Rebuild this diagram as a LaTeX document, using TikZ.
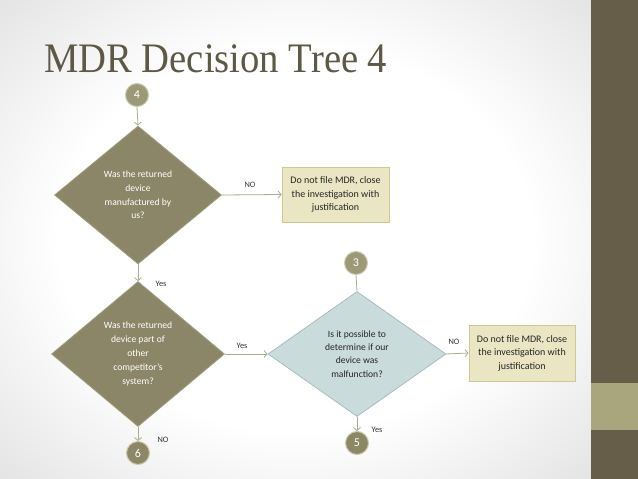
\documentclass[tikz,border=0pt]{standalone}
\usepackage{fontspec}
\setmainfont{Carlito}
\newfontfamily\titlefont{Liberation Serif}
\usetikzlibrary{shapes.geometric,arrows.meta}
\definecolor{barDark}{HTML}{665E49}
\definecolor{barLight}{HTML}{A9A57D}
\definecolor{titleCol}{HTML}{5E5945}
\definecolor{dmOlive}{HTML}{8B8667}
\definecolor{dmOliveLine}{HTML}{A19D7E}
\definecolor{dmBlue}{HTML}{CADBDB}
\definecolor{dmBlueLine}{HTML}{A7BEC0}
\definecolor{boxFill}{HTML}{EAE6C3}
\definecolor{boxLine}{HTML}{CEC795}
\definecolor{circA}{HTML}{9C9977}
\definecolor{circB}{HTML}{8C8866}
\definecolor{circLine}{HTML}{CCCAAE}
\definecolor{connCol}{HTML}{ADAB93}
\definecolor{lblCol}{HTML}{333333}
\pgfdeclareradialshading{bgshade}{\pgfpoint{0bp}{0bp}}{color(0bp)=(white); color(20bp)=(white); color(36bp)=(black!11); color(50bp)=(black!15)}
\tikzset{
  olivediamond/.style={diamond, draw=dmOliveLine, fill=dmOlive, line width=0.8pt, inner sep=0pt, text=white, font=\fontsize{9.6}{13.8}\selectfont, align=center},
  bluediamond/.style={diamond, draw=dmBlueLine, fill=dmBlue, line width=0.8pt, inner sep=0pt, text=black!85, font=\fontsize{9.6}{13.2}\selectfont, align=center},
  infobox/.style={rectangle, draw=boxLine, fill=boxFill, line width=0.8pt, minimum width=107pt, minimum height=55pt, inner sep=0pt, text=black!85, font=\fontsize{10}{13.5}\selectfont, align=center},
  connector/.style={circle, draw=circLine, line width=1pt, text=white, minimum size=23pt, inner sep=0pt, font=\fontsize{12}{12}\selectfont},
  conn/.style={draw=connCol, line width=0.8pt},
  arr/.style={conn, -{Straight Barb[length=3pt,width=7pt]}},
  lbl/.style={font=\fontsize{8.3}{9}\selectfont, text=lblCol, inner sep=0pt}
}
\begin{document}
\begin{tikzpicture}[x=1pt,y=-1pt]
\useasboundingbox (0,0) rectangle (638,479);
\shade[shading=bgshade] (0,0) rectangle (591,479);
\fill[barDark] (591,0) rectangle (638,479);
\fill[barLight] (591,383) rectangle (638,430);
\node[anchor=base west, inner sep=0pt, text=titleCol, font=\titlefont\fontsize{42}{42}\selectfont] (title) at (44,72) {\scalebox{0.92}[1]{MDR Decision Tree 4}};

\node[olivediamond, minimum width=167pt, minimum height=138pt] (d1) at (138,195) {Was the returned\\device\\manufactured by\\us?};
\node[olivediamond, minimum width=173pt, minimum height=145pt] (d2) at (138,354) {Was the returned\\device part of\\other\\competitor's\\system?};
\node[bluediamond, minimum width=178pt, minimum height=125pt] (d3) at (357,354) {Is it possible to\\determine if our\\device was\\malfunction?};
\node[infobox] (b1) at (335.5,194.5) {Do not file MDR, close\\the investigation with\\justification};
\node[infobox, minimum width=106pt, minimum height=56pt] (b2) at (522,353) {Do not file MDR, close\\the investigation with\\justification};

\node[connector, fill=circA] (c4) at (137,95) {4};
\node[connector, fill=circA] (c3) at (356,263) {3};
\node[connector, fill=circB] (c6) at (138,453) {6};
\node[connector, fill=circB] (c5) at (357,443) {5};

\draw[arr] (c4.south) -- (d1.north);
\draw[arr] (d1.east) -- (b1.west);
\draw[arr] (d1.south) -- (d2.north);
\draw[arr] (d2.south) -- (c6.north);
\draw[arr] (d2.east) -- (d3.west);
\draw[conn] (c3.south) -- (d3.north);
\draw[arr] (d3.south) -- (c5.north);
\draw[arr] (d3.east) -- (b2.west);

\node[lbl] (lno1) at (250,185) {NO};
\node[lbl] (lyes1) at (161,284) {Yes};
\node[lbl] (lno2) at (163,440) {NO};
\node[lbl] (lyes2) at (242,346) {Yes};
\node[lbl] (lyes3) at (377,430) {Yes};
\node[lbl] (lno3) at (454,342) {NO};
\end{tikzpicture}
\end{document}
